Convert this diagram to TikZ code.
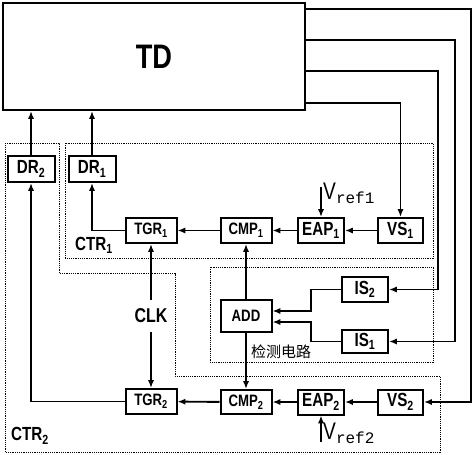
\documentclass[tikz,border=0pt]{standalone}
\usepackage{fontspec}
\setmainfont{Liberation Sans}[FakeStretch=0.8]
\setmonofont{Liberation Mono}
\newfontfamily\cjkfont{Noto Sans CJK SC}
\usetikzlibrary{arrows.meta,positioning}

\begin{document}
\begin{tikzpicture}[x=1pt,y=-1pt,
block/.style={draw=black,line width=2pt,fill=white,align=center,inner sep=1pt,
minimum width=51pt,minimum height=25pt,font=\fontsize{16.5}{17}\selectfont\bfseries},
bigblock/.style={block,font=\fontsize{19}{19}\selectfont\bfseries},
signal/.style={-{Latex[length=2.8mm,width=2.2mm]},line width=1.9pt},
frame/.style={line width=1pt,dash pattern=on 1.2pt off 1pt},
framecaption/.style={font=\fontsize{19}{19}\selectfont\bfseries,inner sep=0pt},
refcaption/.style={font=\fontsize{24}{24}\selectfont,inner sep=0pt,anchor=west}]
\useasboundingbox (0,0) rectangle (474,455);
% dotted regions
\draw[frame] (65,143) rectangle (433,258);
\draw[frame] (210,267) rectangle (433,362);
\draw[frame] (5,143) -- (59,143) -- (59,273) -- (175,273) -- (175,376) -- (440,376) -- (440,452) -- (5,452) -- cycle;
\node[framecaption] (ctr1lab) at (94,245) {CTR\textsubscript{1}};
\node[framecaption] (ctr2lab) at (30,436) {CTR\textsubscript{2}};
\node[inner sep=0pt,font=\cjkfont\fontsize{15}{15}\selectfont] (detlab) at (281,352) {检测电路};
% blocks
\node[block,minimum width=302pt,minimum height=107pt,font=\fontsize{34}{34}\selectfont\bfseries] (TD) at (154,56.5) {TD};
\node[bigblock,minimum width=47pt,minimum height=26pt] (DR2) at (31,169) {DR\textsubscript{2}};
\node[bigblock,minimum width=47pt,minimum height=26pt] (DR1) at (92,169) {DR\textsubscript{1}};
\node[block] (TGR1) at (151,230.5) {TGR\textsubscript{1}};
\node[block] (CMP1) at (246,230.5) {CMP\textsubscript{1}};
\node[bigblock,minimum width=46pt] (EAP1) at (321,230.5) {EAP\textsubscript{1}};
\node[bigblock,minimum width=45pt] (VS1) at (400.5,230.5) {VS\textsubscript{1}};
\node[block,minimum height=32pt] (ADD) at (246,316) {ADD};
\node[bigblock,minimum width=46pt] (IS2) at (365,289.5) {IS\textsubscript{2}};
\node[bigblock,minimum width=46pt,minimum height=23pt] (IS1) at (365,341.5) {IS\textsubscript{1}};
\node[inner sep=0pt,minimum height=32pt,font=\fontsize{20}{20}\selectfont\bfseries] (CLK) at (151,316) {CLK};
\node[block] (TGR2) at (151,401.5) {TGR\textsubscript{2}};
\node[block,minimum height=24pt] (CMP2) at (246,402) {CMP\textsubscript{2}};
\node[bigblock,minimum width=46pt] (EAP2) at (321,402) {EAP\textsubscript{2}};
\node[bigblock,minimum width=45pt] (VS2) at (400.5,402) {VS\textsubscript{2}};
% references
\coordinate (vref1) at (321,187);
\coordinate (vref2) at (321,442);
\node[refcaption] (vref1lab) at (323,193) {V\textsubscript{\ttfamily\fontsize{16}{16}\selectfont ref1}};
\node[refcaption] (vref2lab) at (323,433) {V\textsubscript{\ttfamily\fontsize{16}{16}\selectfont ref2}};
% feedback from TD
\draw[signal] ([yshift=-7pt]TD.north east) -- ++(165,0) |- (VS2.east);
\draw[signal] ([yshift=-38pt]TD.north east) -- ++(149,0) |- (IS1.east);
\draw[signal] ([yshift=-69pt]TD.north east) -- ++(132,0) |- (IS2.east);
\draw[signal] ([yshift=-101pt]TD.north east) -| (VS1.north);
% first channel
\draw[signal] (VS1) -- (EAP1);
\draw[signal] (vref1) -- (EAP1.north);
\draw[signal] (EAP1) -- (CMP1);
\draw[signal] (CMP1) -- (TGR1);
\draw[signal] (TGR1.west) -| (DR1.south);
\draw[signal] (DR1.north) -- (DR1.north |- TD.south);
% detection circuit
\draw[signal] (IS2.west) -- ++(-30,0) |- ([yshift=5pt]ADD.east);
\draw[signal] (IS1.west) -- ++(-30,0) |- ([yshift=-6pt]ADD.east);
\draw[signal] (ADD) -- (CMP1);
\draw[signal] (ADD) -- (CMP2);
% clock
\draw[signal] (CLK) -- (TGR1);
\draw[signal] (CLK) -- (TGR2);
% second channel
\draw[signal] (VS2) -- (EAP2);
\draw[signal] (vref2) -- (EAP2.south);
\draw[signal] (EAP2) -- (CMP2);
\draw[signal] (CMP2) -- (TGR2);
\draw[signal] (TGR2.west) -| (DR2.south);
\draw[signal] (DR2.north) -- (DR2.north |- TD.south);
\end{tikzpicture}
\end{document}
